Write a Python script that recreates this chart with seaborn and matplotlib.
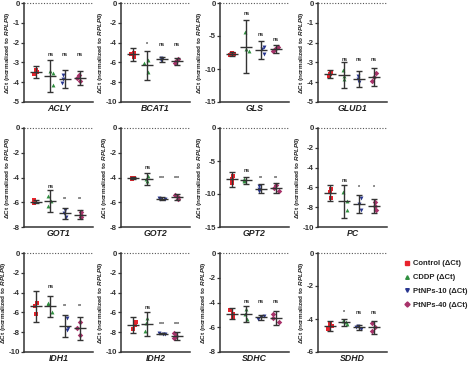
import numpy as np
import pandas as pd
import seaborn as sns
import matplotlib.pyplot as plt
from matplotlib.lines import Line2D

sns.set_style("ticks")
plt.rcParams["font.family"] = ["Liberation Sans", "DejaVu Sans"]
plt.rcParams["axes.unicode_minus"] = False
plt.rcParams["mathtext.fontset"] = "custom"
plt.rcParams["mathtext.rm"] = "Liberation Sans:bold"
plt.rcParams["mathtext.it"] = "Liberation Sans:bold:italic"

genes = ["ACLY", "BCAT1", "GLS", "GLUD1", "GOT1", "GOT2",
         "GPT2", "PC", "IDH1", "IDH2", "SDHC", "SDHD"]
y_bottom = [-5, -10, -15, -5, -8, -8, -15, -10, -10, -10, -8, -6]
y_step = [1, 2, 5, 1, 2, 2, 5, 2, 2, 2, 2, 2]

groups = ["Control (ΔCt)", "CDDP (ΔCt)", "PtNPs-10 (ΔCt)", "PtNPs-40 (ΔCt)"]
colors = ["#e8232c", "#2f8f3f", "#27358f", "#a8326a"]
markers = ["s", "^", "v", "D"]

control_mean = [-3.5, -5.2, -7.7, -3.6, -5.95, -4.05, -7.8, -6.6, -5.4, -7.3, -4.9, -4.45]
control_sd = [0.3, 0.65, 0.3, 0.2, 0.15, 0.08, 1.1, 0.8, 1.6, 0.8, 0.45, 0.3]
cddp_mean = [-3.7, -6.3, -6.6, -3.65, -5.9, -4.1, -7.9, -7.4, -5.4, -7.2, -4.9, -4.2]
cddp_sd = [0.8, 1.5, 4.0, 0.65, 0.85, 0.5, 0.55, 1.65, 1.1, 1.2, 0.65, 0.2]
p10_mean = [-3.85, -5.7, -7.1, -3.85, -6.9, -5.7, -9.2, -7.7, -7.35, -8.15, -5.2, -4.5]
p10_sd = [0.45, 0.25, 1.4, 0.4, 0.45, 0.1, 0.65, 0.9, 1.1, 0.05, 0.2, 0.15]
p40_mean = [-3.8, -5.9, -7.0, -3.75, -7.0, -5.6, -9.1, -7.9, -7.6, -8.35, -5.25, -4.5]
p40_sd = [0.35, 0.35, 0.65, 0.45, 0.35, 0.25, 0.7, 0.7, 1.15, 0.4, 0.6, 0.4]

control_pts = [[-3.4, -3.5, -3.6], [-5.0, -5.2, -5.45], [-7.55, -7.7, -7.85],
               [-3.5, -3.6, -3.7], [-5.85, -5.95, -6.05], [-4.0, -4.05, -4.1],
               [-7.2, -7.8, -8.4], [-6.2, -6.5, -7.1], [-5.0, -5.4, -6.2],
               [-7.0, -7.3, -7.7], [-4.6, -4.9, -5.2], [-4.3, -4.45, -4.6]]
cddp_pts = [[-3.45, -3.55, -4.15], [-5.8, -6.1, -7.0], [-4.4, -7.0, -7.2],
            [-3.4, -3.7, -3.85], [-5.5, -5.9, -6.3], [-3.9, -4.1, -4.3],
            [-7.7, -7.9, -8.1], [-6.5, -7.4, -8.3], [-5.0, -5.2, -6.0],
            [-6.6, -7.1, -7.9], [-4.5, -4.9, -5.3], [-4.1, -4.2, -4.3]]
p10_pts = [[-3.65, -3.85, -4.05], [-5.6, -5.7, -5.8], [-6.6, -7.0, -7.7],
           [-3.7, -3.85, -4.0], [-6.6, -6.9, -7.2], [-5.65, -5.7, -5.75],
           [-8.8, -9.2, -9.6], [-7.1, -7.7, -8.3], [-6.6, -7.6, -7.8],
           [-8.1, -8.15, -8.2], [-5.1, -5.2, -5.3], [-4.4, -4.5, -4.6]]
p40_pts = [[-3.65, -3.8, -3.95], [-5.7, -5.9, -6.1], [-6.7, -7.0, -7.3],
           [-3.55, -3.75, -3.95], [-6.8, -7.0, -7.2], [-5.45, -5.6, -5.75],
           [-8.7, -9.1, -9.5], [-7.5, -7.9, -8.3], [-7.0, -7.6, -8.3],
           [-8.1, -8.35, -8.6], [-4.9, -5.25, -5.6], [-4.25, -4.5, -4.75]]

# significance vs control (CDDP, PtNPs-10, PtNPs-40)
cddp_sig = ["ns", "*", "ns", "ns", "ns", "ns", "ns", "ns", "ns", "ns", "ns", "*"]
p10_sig = ["ns", "ns", "ns", "ns", "**", "***", "**", "*", "**", "***", "ns", "ns"]
p40_sig = ["ns", "ns", "ns", "ns", "**", "***", "**", "*", "**", "***", "ns", "ns"]
cddp_sig_y = [-2.6, -4.2, -1.6, -2.85, -4.7, -3.2, -6.4, -5.3, -3.4, -5.55, -3.9, -3.6]
p10_sig_y = [-2.6, -4.2, -4.8, -2.85, -5.8, -4.05, -7.6, -6.0, -5.4, -7.2, -3.9, -3.6]
p40_sig_y = [-2.6, -4.2, -5.6, -2.85, -5.8, -4.05, -7.6, -6.0, -5.4, -7.2, -3.9, -3.6]

means = [control_mean, cddp_mean, p10_mean, p40_mean]
sds = [control_sd, cddp_sd, p10_sd, p40_sd]
pts = [control_pts, cddp_pts, p10_pts, p40_pts]
sigs = [cddp_sig, p10_sig, p40_sig]
sig_ys = [cddp_sig_y, p10_sig_y, p40_sig_y]

rows = []
for gi, g in enumerate(genes):
    for k, grp in enumerate(groups):
        for v in pts[k][gi]:
            rows.append({"gene": g, "group": grp, "value": v})
df = pd.DataFrame(rows)

W, H = 474, 368
fig = plt.figure(figsize=(W / 100, H / 100), dpi=100)
lefts = [24, 121, 220, 318]
tops = [3, 128, 253]
aw, ah = 69, 99
axc = "#333333"

np.random.seed(3)
for gi, g in enumerate(genes):
    r, c = divmod(gi, 4)
    ax = fig.add_axes([lefts[c] / W, 1 - (tops[r] + ah) / H, aw / W, ah / H])
    sub = df[df["gene"] == g]
    for k, grp in enumerate(groups):
        d = sub[sub["group"] == grp]
        sns.stripplot(x=d["group"], y=d["value"], order=groups, color=colors[k],
                      marker=markers[k], size=2.8, jitter=0.22, linewidth=0, ax=ax)
    xs = np.arange(len(groups))
    m = [means[k][gi] for k in range(4)]
    s = [sds[k][gi] for k in range(4)]
    ax.errorbar(xs, m, yerr=s, fmt="_", ms=9, mew=1.0, color="#333333",
                elinewidth=1.0, capsize=2.5, capthick=1.0, zorder=4)
    for k in range(3):
        ax.text(k + 1, sig_ys[k][gi], sigs[k][gi], ha="center", va="center",
                fontsize=3.8, fontweight="bold", color=axc)
    ax.axhline(0, color="#555555", lw=0.8, ls=(0, (1, 1.5)), clip_on=False)
    ax.set_xlim(-0.8, 3.9)
    ax.set_ylim(y_bottom[gi], 0)
    ax.set_yticks(np.arange(0, y_bottom[gi] - 0.01, -y_step[gi]))
    ax.set_yticklabels([f"{int(t)}" for t in ax.get_yticks()])
    ax.set_xticks([])
    ax.set_xlabel(g, fontsize=6.3, fontweight="bold", fontstyle="italic",
                  color="#222222", labelpad=1.5)
    ax.set_ylabel("ΔCt (normalized to $\\it{RPLP0}$)", fontsize=4.6,
                  fontweight="bold", color="#222222", labelpad=0.5)
    ax.tick_params(axis="y", labelsize=5.7, length=2, width=0.9, pad=1,
                   colors=axc)
    for lbl in ax.get_yticklabels():
        lbl.set_fontweight("bold")
    sns.despine(ax=ax)
    for sp in ["left", "bottom"]:
        ax.spines[sp].set_linewidth(1.1)
        ax.spines[sp].set_color(axc)

handles = [Line2D([], [], ls="none", marker=markers[k], color=colors[k],
                  markersize=2.6) for k in range(4)]
fig.legend(handles, groups, loc="upper left", bbox_to_anchor=(402 / W, 1 - 257 / H),
           frameon=False, handlelength=0.5, handletextpad=0.5,
           labelspacing=0.85, borderaxespad=0,
           prop={"weight": "bold", "size": 5.5})
for t in fig.legends[0].get_texts():
    t.set_color("#222222")

fig.savefig("out.png", dpi=100)
